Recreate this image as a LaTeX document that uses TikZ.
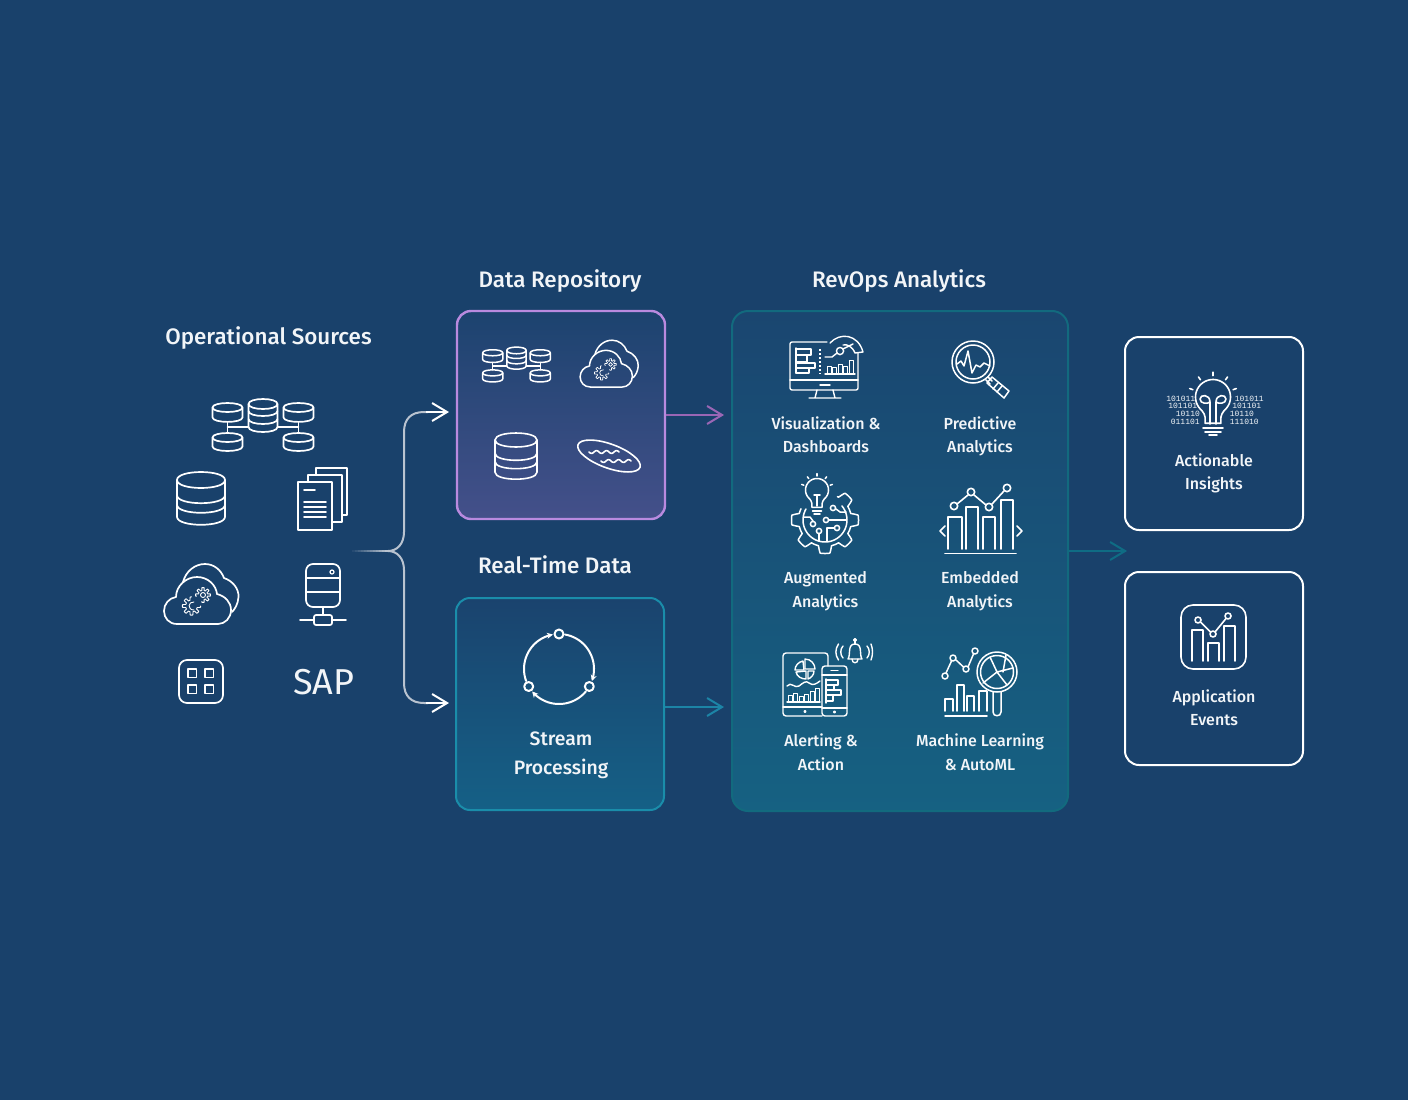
\documentclass[tikz,border=0pt]{standalone}
\usepackage{fontspec}
\setmainfont{Fira Sans Medium}
\newfontfamily\lightf{Fira Sans}
\newfontfamily\monof{Liberation Mono}
\usetikzlibrary{arrows.meta,calc}
\definecolor{bgc}{HTML}{19416B}
\definecolor{purp}{HTML}{B98ADF}
\definecolor{purpa}{HTML}{9A66B5}
\definecolor{purpbot}{HTML}{44508A}
\definecolor{purptop}{HTML}{1C436F}
\definecolor{tealb}{HTML}{1A8DAA}
\definecolor{teala}{HTML}{1C84A6}
\definecolor{tealc}{HTML}{0F6C84}
\definecolor{tealbot}{HTML}{156086}
\definecolor{tealtop}{HTML}{1A436E}
\definecolor{revtop}{HTML}{1A4670}
\definecolor{revbot}{HTML}{166182}
\definecolor{revbord}{HTML}{126A7E}
\definecolor{txt}{HTML}{F2F5F8}
\definecolor{brk}{HTML}{B9C3D0}
\tikzset{
  ico/.style={draw=white,line cap=round,line join=round},
  panel/.style={rectangle,rounded corners=14,inner sep=0,line width=2},
  head/.style={text=txt,font=\fontsize{22.4}{26}\selectfont},
  lab/.style={text=txt,align=center,font=\fontsize{16}{23.5}\selectfont},
  flow/.style={line width=2,-{Straight Barb[length=15,width=18,line width=2]}},
  whitebox/.style={panel,draw=white,minimum width=178,minimum height=193},
  bin/.style={text=txt,anchor=west,inner sep=0,font=\monof\fontsize{8}{8}\selectfont},
}
% cylinder: x,y,rx,ry,h,bands (h and bands in ry units)
\newcommand{\dbcyl}[6]{\begin{scope}[shift={(#1,#2)},xscale=#3,yscale=#4]
 \draw[ico] (-1,0) .. controls (-1,-1.33) and (1,-1.33) .. (1,0) .. controls (1,1.33) and (-1,1.33) .. (-1,0);
 \draw[ico] (-1,0) -- (-1,#5) .. controls (-1,#5+1.33) and (1,#5+1.33) .. (1,#5) -- (1,0);
 \foreach \bb in {#6} {\draw[ico] (-1,\bb) .. controls (-1,\bb+1.33) and (1,\bb+1.33) .. (1,\bb);}
\end{scope}}
\newcommand{\bigdb}[3]{\begin{scope}[shift={(#1,#2)},scale=#3]\dbcyl{0}{0}{24}{8}{4.6}{1.9,3.1}\end{scope}}
\newcommand{\cluster}[3]{\begin{scope}[shift={(#1,#2)},scale=#3]
 \dbcyl{0}{-21}{14.5}{5}{4.6}{1.4,3}
 \dbcyl{-35.5}{-17.5}{15}{4.5}{2.2}{}
 \dbcyl{35.5}{-17.5}{15}{4.5}{2.2}{}
 \dbcyl{-35.5}{12.5}{15}{4.5}{2}{}
 \dbcyl{35.5}{12.5}{15}{4.5}{2}{}
 \draw[ico] (-35.5,-3) -- (-35.5,8) (35.5,-3) -- (35.5,8) (-35.5,2) -- (-14.5,2) (14.5,2) -- (35.5,2);
\end{scope}}
% gear: x,y,R,teeth,amp,from,to
\newcommand{\gearplot}[7]{\draw[ico] plot[variable=\t,domain=#6:#7,samples=241]
 ({#1+(#3+#5*max(min(2.5*cos(#4*\t),1),-1))*cos(\t)},{#2+(#3+#5*max(min(2.5*cos(#4*\t),1),-1))*sin(\t)});}
\newcommand{\cloudicon}[4]{\begin{scope}[shift={(#1,#2)},scale=#3,shift={(-201,-594.5)}]
 \draw[ico] (177,624) .. controls (169,624) and (164,618) .. (164,611) .. controls (164,604) and (169,598) .. (176,597)
   .. controls (176,586) and (186,577) .. (197,577) .. controls (208,577) and (216,585) .. (217,594)
   .. controls (225,596) and (231,602) .. (231,610) .. controls (231,618) and (225,624) .. (218,624) -- cycle;
 \draw[ico] (183,582) .. controls (186,571) and (195,564) .. (205,564) .. controls (214,564) and (221,570) .. (224,578)
   .. controls (233,581) and (239,589) .. (238.5,597) .. controls (238,604) and (235,609) .. (232,612);
 \begin{scope}[line width=#4]
 \gearplot{203}{595}{6}{8}{1.4}{170}{460}
 \gearplot{191.5}{606}{7.5}{8}{1.6}{0}{270}
 \draw[ico] (203,595) circle (2.5);
 \draw[ico] (194,602) .. controls (188,601) and (187,610) .. (194,610);
 \end{scope}
\end{scope}}
\newcommand{\bulbicon}[3]{\begin{scope}[shift={(#1,#2)},scale=#3]
 \draw[ico] plot[variable=\t,domain=130:410,samples=41] ({cos(\t)},{sin(\t)})
   .. controls (0.4,1.05) and (0.45,1.25) .. (0.45,1.5) -- (-0.45,1.5) .. controls (-0.45,1.25) and (-0.4,1.05) .. (-0.64,0.77);
 \foreach \aa in {-160,-126,-90,-54,-20} {\draw[ico] (\aa:1.22) -- (\aa:1.42);}
\end{scope}}
\newcommand{\wave}[3]{\draw[ico] plot[variable=\t,domain=0:#3,samples=40,smooth] ({#1+\t},{#2+1.4*sin(\t*36)});}
\begin{document}
\begin{tikzpicture}[x=1pt,y=-1pt,line width=1.7]
\useasboundingbox (0,0) rectangle (1408,1100);
\fill[bgc] (0,0) rectangle (1408,1100);

% panels
\node[panel,draw=purp,line width=2.4,top color=purptop,bottom color=purpbot,minimum width=208,minimum height=208] (repo) at (561,415) {};
\node[panel,draw=tealb,top color=tealtop,bottom color=tealbot,minimum width=208,minimum height=212] (rt) at (560,704) {};
\node[panel,rounded corners=16,draw=revbord,top color=revtop,bottom color=revbot,minimum width=336,minimum height=500] (rev) at (900,561) {};
\node[whitebox] (ins) at (1214,433.5) {};
\node[whitebox] (evt) at (1214,668.5) {};

% headings
\node[head] (h1) at (268.5,338) {Operational Sources};
\node[head] (h2) at (560,281) {Data Repository};
\node[head] (h3) at (555,565) {Real-Time Data};
\node[head] (h4) at (899,281) {RevOps Analytics};

% labels
\node[lab] (l1) at (826,434.5) {Visualization \&\\Dashboards};
\node[lab] (l2) at (980,436.5) {Predictive\\Analytics};
\node[lab] (l3) at (825.5,591) {Augmented\\Analytics};
\node[lab] (l4) at (980,591) {Embedded\\Analytics};
\node[lab] (l5) at (821,752) {Alerting \&\\Action};
\node[lab] (l6) at (980,752) {Machine Learning\\\& AutoML};
\node[lab] (l7) at (1214,473.5) {Actionable\\Insights};
\node[lab] (l8) at (1214,707.5) {Application\\Events};
\node[text=txt,align=center,font=\fontsize{19.4}{29}\selectfont] (l9) at (561,755) {Stream\\Processing};
\node[text=txt,font=\lightf\fontsize{36}{40}\selectfont] (sap) at (324,682) {SAP};

% connectors
\coordinate (src) at (352,551);
\coordinate (brk) at (388,551);
\coordinate (tipa) at (449,412);
\coordinate (tipb) at (449,703);
\foreach \i in {0,...,11} {
  \pgfmathsetmacro\op{(\i+1)/12}
  \draw[brk,line width=2,opacity=\op] ($(src)+(\i*3,0)$) -- ($(src)+(\i*3+3,0)$);
}
\draw[brk,line width=2] (brk) .. controls (397,551) and (404,544) .. (404,532) -- (404,432) .. controls (404,419) and (411,412) .. (424,412) -- (428,412);
\draw[brk,line width=2] (brk) .. controls (397,551) and (404,558) .. (404,570) -- (404,683) .. controls (404,696) and (411,703) .. (424,703) -- (428,703);
\draw[white,flow] (426,412) -- (tipa);
\draw[white,flow] (426,703) -- (tipb);
\coordinate (ra) at (724,415);
\coordinate (rb) at (724,707);
\coordinate (rc) at (1127,551);
\draw[purpa,flow] (repo.east) -- (ra);
\draw[teala,flow] (rt.east |- rb) -- (rb);
\draw[tealc,flow] (rev.east |- rc) -- (rc);

% --- source icons
\cluster{263}{425}{1}
\bigdb{201}{480}{1}
% documents
\draw[ico] (316,475) -- (316,468) -- (347,468) -- (347,515) -- (342,515);
\draw[ico] (308,482) -- (308,475) -- (342,475) -- (342,522) -- (332,522);
\draw[ico] (298,482) rectangle (332,530);
\draw[ico] (304,490) -- (315,490);
\foreach \yy in {502,507,512,517} {\draw[ico] (304,\yy) -- (326,\yy);}
\cloudicon{201}{594.5}{1}{0.9}
% server
\draw[ico,rounded corners=7] (306,607) -- (306,564) -- (340,564) -- (340,607) -- cycle;
\draw[ico] (306,578) -- (340,578) (306,592) -- (340,592);
\draw[ico,line width=1.2] (332,572) circle (2);
\draw[ico] (323,607) -- (323,615);
\draw[ico,rounded corners=2] (314,615) rectangle (332,625);
\draw[ico] (300,620) -- (314,620) (332,620) -- (346,620);
% apps
\draw[ico,rounded corners=8] (179,660) rectangle (223,703);
\foreach \xx in {188,205} {\foreach \yy in {669,685} {\draw[ico] (\xx,\yy) rectangle ++(8.5,8.5);}}

% --- repository icons
\begin{scope}[line width=1.5]
\cluster{516.5}{364.5}{0.67}
\cloudicon{609}{364}{0.78}{0.7}
\end{scope}
\begin{scope}[line width=1.6]
\bigdb{516}{440}{0.875}
\draw[ico,rotate around={-20:(609,456)}] (609,456) ellipse [x radius=33,y radius=12];
\wave{589}{452}{30}
\wave{601}{461}{30}
\end{scope}

% --- stream icon
\begin{scope}[line width=2]
\foreach \a/\b in {-80/20,40/140,160/260} {
 \draw[ico,-{Stealth[length=6,width=6]}] plot[variable=\t,domain=\a:\b,samples=30] ({559+35*cos(\t)},{669+35*sin(\t)});
}
\foreach \a in {-90,30,150} {\draw[ico,fill=tealtop!50!tealbot] ({559+35*cos(\a)},{669+35*sin(\a)}) circle (4.5);}
\end{scope}

% --- Visualization icon
\begin{scope}[line width=1.4]
\draw[ico,rounded corners=2] (827,342) -- (790,342) -- (790,390) -- (858,390) -- (858,353);
\draw[ico] (790,380) -- (858,380) (820,385) -- (830,385);
\draw[ico] (817,390) -- (815,398) (833,390) -- (835,398) (809,398) -- (841,398);
\draw[ico] (796,348) -- (796,373);
\draw[ico] (796,349) -- (811,349) -- (811,355) -- (796,355) (796,355) -- (807,355) -- (807,362) -- (796,362);
\draw[ico] (796,363) -- (815,363) -- (815,368) -- (796,368) -- (809,368) -- (809,373) -- (796,373);
\draw[ico,dash pattern=on 1.5 off 2.5,line cap=butt] (820,349) -- (820,374);
\draw[ico] (830,343) .. controls (840,332) and (858,334) .. (863,352) -- (855,353) .. controls (852,346) and (847,344) .. (843,345);
\draw[ico] (840,351) circle (3.6);
\draw[ico] (843,349) -- (853,344);
\draw[ico] (825,357) -- (832,357) -- (837,353);
\foreach \xx/\hh in {827/7,832.5/6,838/9,843.5/7,849/13} {\draw[ico,line width=0.9] (\xx,373) -- (\xx,373-\hh) -- (\xx+4,373-\hh) -- (\xx+4,373);}
\draw[ico] (825,374) -- (855,374);
\end{scope}

% --- Magnifier icon
\begin{scope}[line width=1.5]
\draw[ico] (973,362) circle (21);
\draw[ico] (973,362) circle (17);
\draw[ico] (957,364) -- (961,361) -- (964,366) -- (968,351) -- (972,373) -- (976,365) -- (980,367) -- (984,363) -- (990,366);
\draw[ico] (988,377) -- (992,381) (986,380) -- (990,384);
\draw[ico] (992,377) -- (1009,391) -- (1004,398) -- (987,383) -- cycle;
\draw[ico] (998,383) -- (993,389) (1002,386) -- (997,392);
\end{scope}

% --- Augmented icon
\begin{scope}[line width=1.5]
\gearplot{825}{520}{30}{8}{3.5}{-62}{205}
\draw[ico] plot[variable=\t,domain=-40:210,samples=40] ({825+22*cos(\t)},{520+22*sin(\t)});
\bulbicon{817}{490}{11.5}
\draw[ico] (814,495) -- (820,495) (817,495) -- (817,506);
\draw[ico] (812.5,511) -- (821.5,511) (814,514) -- (820,514);
\draw[ico] (833,508) circle (2.6);
\draw[ico] (826,520) circle (2.6);
\draw[ico] (813,524) circle (2.6);
\draw[ico] (819,531) circle (2.6);
\draw[ico] (837,528) circle (2.6);
\draw[ico] (836,509) -- (840,512) -- (846,512);
\draw[ico] (829,520) -- (846,520);
\draw[ico] (813,521) -- (810,517) -- (804,517);
\draw[ico] (819,534) -- (819,541);
\draw[ico] (834,528) -- (827,528) -- (827,541);
\end{scope}

% --- Embedded icon
\begin{scope}[line width=1.6]
\draw[ico] (948,549) -- (948,517) -- (962,517) -- (962,549);
\draw[ico] (966,549) -- (966,507) -- (978,507) -- (978,549);
\draw[ico] (983,549) -- (983,517) -- (995,517) -- (995,549);
\draw[ico] (1001,549) -- (1001,500) -- (1013,500) -- (1013,549);
\draw[ico] (945,553.5) -- (1016,553.5);
\draw[ico] (957,504) -- (968,495) (974,495) -- (986,505) (992,504) -- (1004,491);
\foreach \cc in {(954,506),(971,492),(989,507),(1007,488)} {\draw[ico] \cc circle (3.7);}
\draw[ico] (945,526) -- (940,531) -- (945,536);
\draw[ico] (1017,526) -- (1022,531) -- (1017,536);
\end{scope}

% --- Alerting icon
\begin{scope}[line width=1.4]
\draw[ico,rounded corners=3] (822,716) -- (783,716) -- (783,653) -- (828,653) -- (828,666);
\draw[ico] (783,707) -- (822,707);
\draw[ico,fill=white] (805,711.5) circle (0.8);
\draw[ico,rounded corners=3] (822,666) rectangle (847,716);
\draw[ico] (822,675) -- (847,675) (822,708) -- (847,708) (831,670.5) -- (838,670.5);
\draw[ico,fill=white] (834.5,712) circle (0.8);
\draw[ico] (826,679) -- (826,703);
\draw[ico] (826,680) -- (838,680) -- (838,685) -- (826,685) -- (834,685) -- (834,690) -- (826,690) -- (841,690) -- (841,695) -- (826,695) -- (833,695) -- (833,701) -- (826,701);
\draw[ico] (805,669) -- (805,659) .. controls (811,659) and (815,664) .. (815,669) -- cycle;
\draw[ico] (803,661) .. controls (798,662) and (795,666) .. (795,670) -- (804,670) -- (803,661);
\draw[ico] (796,672) .. controls (797,677) and (802,679) .. (806,679) -- (806,671) -- (796,672);
\draw[ico] (808,671) -- (814,671) .. controls (814,675) and (811,678) .. (808,679) -- cycle;
\draw[ico] (787,686) .. controls (791,681) and (795,689) .. (799,686) .. controls (803,683) and (806,680) .. (809,683) .. controls (813,686) and (816,684) .. (820,681);
\foreach \xx/\hh in {788/6,793.5/8,799/5,804.5/7,810/10,815.5/13} {\draw[ico,line width=0.9] (\xx,701) -- (\xx,701-\hh) -- (\xx+4,701-\hh) -- (\xx+4,701);}
\draw[ico] (787,702) -- (820,702);
% bell
\draw[ico] (848,659) .. controls (851,655) and (847,644) .. (855,644) .. controls (863,644) and (859,655) .. (862,659) -- cycle;
\draw[ico] (855,644) -- (855,641);
\draw[ico] (855,640) circle (1.4);
\draw[ico] (852,659) .. controls (852,664) and (858,664) .. (858,659);
\draw[ico] (843,646) .. controls (840,649) and (840,655) .. (843,658);
\draw[ico] (838.5,644) .. controls (835,649) and (835,655) .. (838.5,660);
\draw[ico] (867,646) .. controls (870,649) and (870,655) .. (867,658);
\draw[ico] (871,644) .. controls (873,649) and (873,655) .. (871,660);
\end{scope}

% --- ML icon
\begin{scope}[line width=1.5]
\draw[ico] (946,673) -- (951.5,661) (956,660) -- (963.5,667) (968,667) -- (973.5,654);
\foreach \cc in {(945,676),(953,658),(966,669),(975,651)} {\draw[ico] \cc circle (3);}
\draw[ico] (997,672) circle (20);
\draw[ico] (997,672) circle (16.5);
\draw[ico] (997,672) -- (990,657) (997,672) -- (1013,668) (997,672) -- (983,683) (997,672) -- (1007,685) (1003,672) -- (1006,655);
\draw[ico] (993,692) -- (993,712) .. controls (993,717) and (1001,717) .. (1001,712) -- (1001,692);
\foreach \xa/\xb/\tp in {945/953/699,957/964/685,967/974/696,979/987/691} {\draw[ico] (\xa,711) -- (\xa,\tp) -- (\xb,\tp) -- (\xb,711);}
\draw[ico] (945,716) -- (987,716);
\end{scope}

% --- Actionable icon
\begin{scope}[line width=1.6]
\bulbicon{1213}{397}{17.5}
\draw[ico] (1210,424) -- (1210,411) -- (1210,402) .. controls (1210,394) and (1200,394) .. (1200,399) .. controls (1200,404) and (1208,404) .. (1210,402);
\draw[ico] (1216,424) -- (1216,402) .. controls (1216,394) and (1226,394) .. (1226,399) .. controls (1226,404) and (1218,404) .. (1216,402);
\draw[ico] (1203,428) -- (1223,428) (1205,432) -- (1221,432) (1209,435) -- (1217,435);
\end{scope}
\node[bin] (b1) at (1165.5,398.5) {101011};
\node[bin] (b2) at (1167.5,406) {101101};
\node[bin] (b3) at (1175,413.5) {10110};
\node[bin] (b4) at (1170,421.5) {011101};
\node[bin] (b5) at (1234,398.5) {101011};
\node[bin] (b6) at (1231.5,406) {101101};
\node[bin] (b7) at (1229,413.5) {10110};
\node[bin] (b8) at (1229,421.5) {111010};

% --- Application events icon
\begin{scope}[line width=1.6]
\draw[ico,rounded corners=12] (1181,605) rectangle (1246,669);
\draw[ico] (1192,661) -- (1192,630) -- (1203,630) -- (1203,661);
\draw[ico] (1208,661) -- (1208,643) -- (1219,643) -- (1219,661);
\draw[ico] (1224,661) -- (1224,626) -- (1235,626) -- (1235,661);
\draw[ico] (1200.5,622) -- (1210.5,632) (1215,632) -- (1226,618.5);
\foreach \cc in {(1198,620),(1213,634),(1228,616)} {\draw[ico] \cc circle (3);}
\end{scope}
\end{tikzpicture}
\end{document}
